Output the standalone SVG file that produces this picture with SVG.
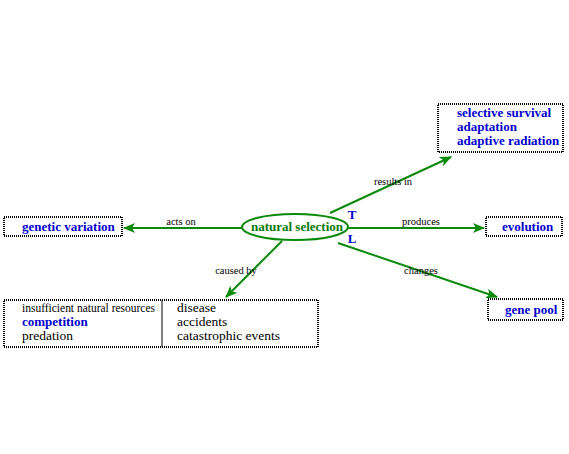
<svg xmlns="http://www.w3.org/2000/svg" width="569" height="454" viewBox="0 0 569 454">
<style>
.box{fill:#fff;stroke:#000;stroke-width:2;stroke-dasharray:1 1}
.con{stroke:#0a8a0a;stroke-width:2;fill:none}
.b{font-family:"Liberation Serif","DejaVu Serif",serif;font-weight:bold;font-size:13px;fill:#0000d0}
.t{font-family:"Liberation Serif","DejaVu Serif",serif;font-size:13.5px;fill:#000}
.lab{font-family:"Liberation Serif","DejaVu Serif",serif;font-size:10.5px;fill:#000;text-anchor:middle}
</style>
<defs>
<marker id="ah" viewBox="0 0 12 10" refX="11" refY="5" markerWidth="12" markerHeight="10" markerUnits="userSpaceOnUse" orient="auto">
<path d="M0,0 L12,5 L0,10 L3,5 Z" fill="#0a8a0a"/>
</marker>
</defs>
<rect width="569" height="454" fill="#fff"/>
<g id="connectors">
<line class="con" x1="242" y1="228" x2="124" y2="228" marker-end="url(#ah)"/>
<line class="con" x1="330" y1="213" x2="451" y2="157" marker-end="url(#ah)"/>
<line class="con" x1="348" y1="228" x2="484" y2="228" marker-end="url(#ah)"/>
<line class="con" x1="338" y1="243" x2="497" y2="297" marker-end="url(#ah)"/>
<line class="con" x1="282" y1="241" x2="226" y2="297" marker-end="url(#ah)"/>
<text class="lab" x="181" y="225">acts on</text>
<text class="lab" x="393" y="185">results in</text>
<text class="lab" x="421" y="225">produces</text>
<text class="lab" x="421" y="274">changes</text>
<text class="lab" x="236" y="274">caused by</text>
</g>
<g id="natural-selection">
<ellipse cx="295" cy="227" rx="53" ry="13" fill="#fff" stroke="#0a8a0a" stroke-width="2"/>
<text x="297" y="231" text-anchor="middle" style="font-family:'Liberation Serif','DejaVu Serif',serif;font-weight:bold;font-size:13px;fill:#0a7a0a">natural selection</text>
<text class="b" x="352" y="219" text-anchor="middle">T</text>
<text class="b" x="352" y="243" text-anchor="middle">L</text>
</g>
<g id="results">
<rect class="box" x="438" y="104" width="125" height="48"/>
<text class="b" x="457" y="117">selective survival</text>
<text class="b" x="457" y="131">adaptation</text>
<text class="b" x="457" y="145">adaptive radiation</text>
</g>
<g id="genetic-variation">
<rect class="box" x="4" y="217" width="118" height="19"/>
<text class="b" x="22" y="231">genetic variation</text>
</g>
<g id="evolution">
<rect class="box" x="486" y="217" width="76" height="19"/>
<text class="b" x="502" y="231">evolution</text>
</g>
<g id="gene-pool">
<rect class="box" x="488" y="299" width="75" height="21"/>
<text class="b" x="505" y="314">gene pool</text>
</g>
<g id="causes">
<rect class="box" x="4" y="300" width="314" height="47"/>
<line x1="162" y1="300" x2="162" y2="347" stroke="#000" stroke-width="1"/>
<text class="t" x="22" y="312" textLength="133" lengthAdjust="spacingAndGlyphs">insufficient natural resources</text>
<text class="b" x="22" y="326">competition</text>
<text class="t" x="22" y="340">predation</text>
<text class="t" x="177" y="312">disease</text>
<text class="t" x="177" y="326">accidents</text>
<text class="t" x="177" y="340">catastrophic events</text>
</g>
</svg>
